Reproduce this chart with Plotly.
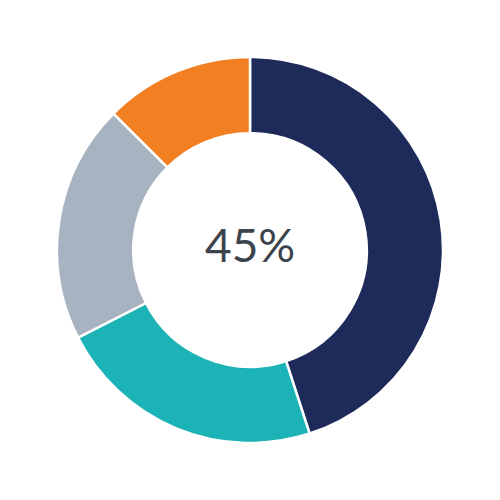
"""Donut chart with headline share in the centre"""

import plotly.graph_objects as go

labels = ["Navy", "Teal", "Gray", "Orange"]
shares = [45, 22.5, 20, 12.5]
colors = ["#1e2b5a", "#1bb3b5", "#a8b3c2", "#f28022"]
center_label = "45%"

fig = go.Figure(
    go.Pie(
        labels=labels,
        values=shares,
        hole=0.605,
        sort=False,
        direction="clockwise",
        rotation=0,
        textinfo="none",
        marker=dict(colors=colors, line=dict(color="white", width=2.5)),
        showlegend=False,
    )
)

# centre text
fig.add_annotation(
    text=center_label,
    x=0.5,
    y=0.515,
    xref="paper",
    yref="paper",
    showarrow=False,
    font=dict(family="Lato", size=46, color="#3d434c"),
)

# page body adds 8px, so margins are offset to keep the ring centred at 250
fig.update_layout(
    width=500,
    height=500,
    margin=dict(l=49, r=65, t=49, b=65),
    paper_bgcolor="white",
    plot_bgcolor="white",
)

fig.write_html("out.html")
